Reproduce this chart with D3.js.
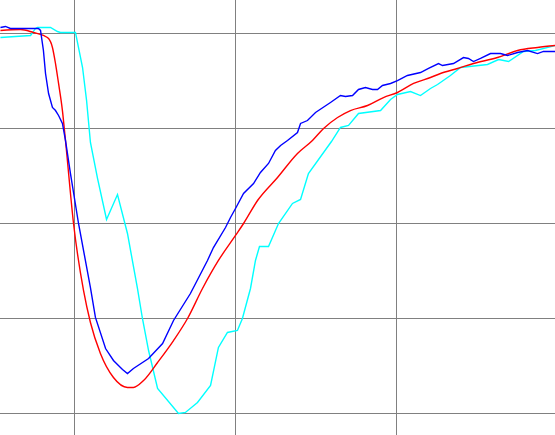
<!DOCTYPE html>
<html>
<head>
<meta charset="utf-8">
<script src="https://cdn.jsdelivr.net/npm/d3@7"></script>
<style>
  html, body { margin: 0; padding: 0; background: #fff; overflow: hidden; }
</style>
</head>
<body>
<div id="chart"></div>
<script>
// grid ticks
const xTicks = [10, 20, 30];
const yTicks = [0, -10, -20, -30, -40];

// series (x, y)
const blueX = [5.40, 5.71, 6.02, 6.65, 7.27, 7.76, 7.89, 8.07, 8.20, 8.39, 8.63, 8.82, 9.01, 9.25, 9.44, 9.75, 10.25, 10.99, 11.30, 11.93, 12.42, 12.98, 13.29, 13.66, 14.60, 15.47, 16.15, 17.20, 18.26, 18.63, 19.38, 19.69, 20.00, 20.50, 21.12, 21.55, 22.05, 22.48, 22.80, 23.23, 23.85, 24.04, 24.47, 24.97, 25.90, 26.52, 26.83, 27.27, 27.64, 28.07, 28.51, 28.82, 29.13, 29.63, 30.06, 30.68, 31.49, 31.99, 32.61, 32.86, 33.54, 34.16, 34.47, 34.78, 35.22, 35.84, 36.46, 36.89, 37.52, 38.14, 38.76, 39.13, 39.88];
const blueY = [0.63, 0.74, 0.53, 0.53, 0.53, 0.53, 0.32, -1.79, -4.21, -6.32, -7.79, -8.11, -8.63, -9.47, -11.26, -14.74, -20.00, -26.74, -29.89, -33.16, -34.42, -35.37, -35.79, -35.26, -34.21, -32.63, -30.21, -27.37, -23.89, -22.53, -20.42, -19.37, -18.42, -16.84, -15.79, -14.63, -13.68, -12.32, -11.79, -11.26, -10.42, -9.47, -9.16, -8.32, -7.26, -6.53, -6.63, -6.53, -5.89, -5.68, -5.89, -5.89, -5.47, -5.26, -4.95, -4.42, -4.11, -3.68, -3.16, -3.37, -3.16, -2.53, -2.63, -2.95, -2.63, -2.11, -2.11, -2.32, -2.00, -1.79, -2.11, -1.89, -1.89];

const redX = [5.40, 6.65, 7.45, 8.07, 8.39, 8.63, 8.82, 9.01, 9.25, 9.44, 9.94, 10.56, 10.99, 11.61, 12.42, 13.29, 13.66, 14.29, 15.16, 16.15, 17.02, 17.95, 18.94, 20.00, 20.50, 21.37, 22.61, 23.85, 24.78, 25.47, 26.34, 27.14, 28.20, 29.19, 30.06, 31.06, 32.11, 32.73, 33.79, 34.78, 36.27, 37.52, 38.76, 39.88];
const redY = [0.32, 0.42, 0.11, -0.21, -0.53, -1.47, -3.16, -5.26, -8.11, -11.26, -20.00, -27.05, -30.42, -33.68, -36.21, -37.26, -37.26, -36.53, -34.63, -32.32, -30.00, -26.84, -23.89, -21.26, -20.00, -17.58, -15.16, -12.63, -11.26, -10.00, -8.84, -8.11, -7.58, -6.74, -6.21, -5.26, -4.63, -4.21, -3.68, -3.16, -2.53, -1.79, -1.47, -1.26];

const cyanX = [5.40, 7.27, 7.58, 7.70, 8.51, 8.94, 9.13, 10.06, 10.50, 10.75, 10.99, 11.43, 11.99, 12.67, 13.29, 13.91, 14.22, 14.60, 15.16, 16.46, 16.89, 17.64, 18.45, 18.94, 19.50, 20.12, 20.43, 20.93, 21.24, 21.49, 22.05, 22.67, 23.54, 24.04, 24.53, 25.96, 26.52, 27.02, 27.64, 29.01, 29.63, 30.06, 30.87, 31.49, 32.11, 32.55, 33.35, 33.98, 35.65, 36.34, 36.96, 37.89, 38.63, 39.88];
const cyanY = [-0.42, -0.21, 0.53, 0.63, 0.63, 0.21, 0.11, 0.11, -3.58, -7.05, -11.47, -15.26, -19.58, -16.95, -21.05, -26.84, -30.00, -33.37, -37.37, -40.00, -39.89, -38.84, -37.05, -33.05, -31.47, -31.26, -30.00, -26.84, -23.89, -22.42, -22.42, -20.00, -17.89, -17.47, -14.74, -11.37, -9.89, -9.68, -8.42, -8.11, -6.95, -6.42, -6.11, -6.53, -5.79, -5.37, -4.42, -3.58, -3.26, -2.74, -2.95, -1.89, -1.79, -1.26];

const width = 555, height = 435;

const x = d3.scaleLinear().domain([10, 30]).range([74.5, 396.5]);
const y = d3.scaleLinear().domain([0, -40]).range([33.5, 413.5]);

const svg = d3.select("#chart")
    .append("svg")
    .attr("width", width)
    .attr("height", height);

svg.selectAll(".vgrid")
    .data(xTicks)
    .enter()
    .append("line")
    .attr("x1", d => x(d)).attr("x2", d => x(d))
    .attr("y1", 0).attr("y2", height)
    .attr("stroke", "#808080")
    .attr("stroke-width", 1);

svg.selectAll(".hgrid")
    .data(yTicks)
    .enter()
    .append("line")
    .attr("y1", d => y(d)).attr("y2", d => y(d))
    .attr("x1", 0).attr("x2", width)
    .attr("stroke", "#808080")
    .attr("stroke-width", 1);

function series(xs, ys) {
    return xs.map((v, i) => [v, ys[i]]);
}

const line = d3.line().x(d => x(d[0])).y(d => y(d[1]));
const smooth = d3.line().x(d => x(d[0])).y(d => y(d[1])).curve(d3.curveMonotoneX);

svg.append("path")
    .attr("d", line(series(cyanX, cyanY)))
    .attr("fill", "none")
    .attr("stroke", "#00ffff")
    .attr("stroke-width", 1.4);

svg.append("path")
    .attr("d", smooth(series(redX, redY)))
    .attr("fill", "none")
    .attr("stroke", "#ff0000")
    .attr("stroke-width", 1.4);

svg.append("path")
    .attr("d", line(series(blueX, blueY)))
    .attr("fill", "none")
    .attr("stroke", "#0000ff")
    .attr("stroke-width", 1.4);
</script>
</body>
</html>
